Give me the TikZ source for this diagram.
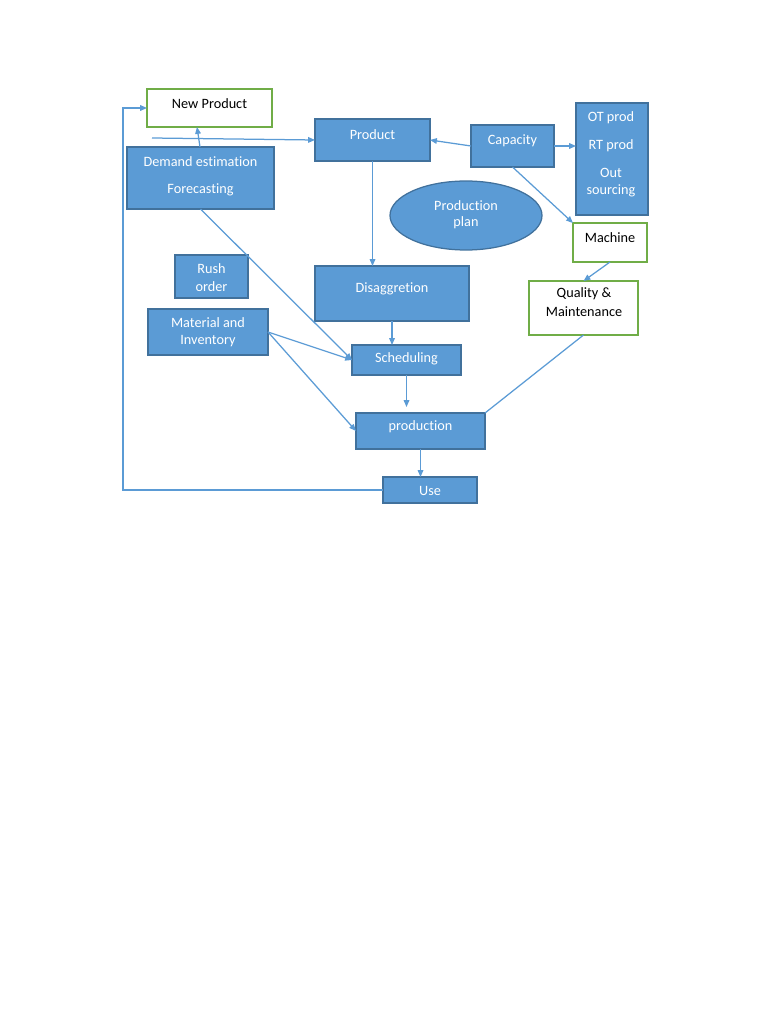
\documentclass[tikz,border=0pt]{standalone}
\usepackage{fontspec}
\setmainfont{Carlito}[Ligatures=NoCommon]
\usetikzlibrary{arrows.meta,shapes.geometric}
\definecolor{bfill}{HTML}{5B9BD5}
\definecolor{bdraw}{HTML}{41719C}
\definecolor{gdraw}{HTML}{70AD47}
\definecolor{lcol}{HTML}{5B9BD5}
\tikzset{
  sz/.style 2 args={minimum width=#1*0.8pt, minimum height=#2*0.8pt},
  bluebox/.style={rectangle, fill=bfill, draw=bdraw, line width=1pt, inner sep=0pt, outer sep=0pt},
  greenbox/.style={rectangle, fill=white, draw=gdraw, line width=1pt, inner sep=0pt, outer sep=0pt},
  wtxt/.style={text=white, font=\fontsize{11.4}{13}\selectfont, inner sep=0pt, anchor=center},
  ktxt/.style={text=black, font=\fontsize{11.4}{13}\selectfont, inner sep=0pt, anchor=center},
  conn/.style={draw=lcol, line width=1pt, -{Triangle[length=5.5pt,width=4.5pt]}},
  plainconn/.style={draw=lcol, line width=1pt}
}
\begin{document}
\begin{tikzpicture}[x=0.8pt,y=-0.8pt]
\useasboundingbox (0,0) rectangle (768,1024);
% boxes
\node[greenbox, sz={125}{38}] (newp) at (209.5,108) {};
\node[bluebox, sz={115}{42}] (prod) at (372.5,140) {};
\node[bluebox, sz={147}{62}] (dem) at (200.5,178) {};
\node[bluebox, sz={83}{42}] (cap) at (512.5,146) {};
\node[bluebox, sz={72}{112}] (ot) at (612,159) {};
\node[ellipse, fill=bfill, draw=bdraw, line width=1pt, inner sep=0pt, sz={152}{69}] (plan) at (466,215.5) {};
\node[greenbox, sz={74}{39}] (mach) at (610,242.5) {};
\node[bluebox, sz={73}{43}] (rush) at (211.5,276.5) {};
\node[bluebox, sz={154}{55}] (dis) at (392,293.5) {};
\node[bluebox, sz={120}{46}] (mat) at (208,332) {};
\node[greenbox, sz={109}{54}] (qual) at (583.5,308) {};
\node[bluebox, sz={109}{30}] (sch) at (406.5,360) {};
\node[bluebox, sz={129}{36}] (prodn) at (420.5,431) {};
\node[bluebox, sz={94}{26}] (use) at (430,490) {};
% texts
\node[ktxt] (tnewp) at (209.5,104) {New Product};
\node[wtxt] (tprod) at (372.5,135) {Product};
\node[wtxt] (tdem1) at (200.5,162) {Demand estimation};
\node[wtxt] (tdem2) at (200.5,190) {Forecasting};
\node[wtxt] (tcap) at (512.5,141) {Capacity};
\node[wtxt] (tot1) at (611,118) {OT prod};
\node[wtxt] (tot2) at (611,146) {RT prod};
\node[wtxt] (tot3) at (611,173) {Out};
\node[wtxt] (tot4) at (611,191) {sourcing};
\node[wtxt] (tplan1) at (466,206) {Production};
\node[wtxt] (tplan2) at (466,223) {plan};
\node[ktxt] (tmach) at (610,238) {Machine};
\node[wtxt] (trush1) at (211.5,269) {Rush};
\node[wtxt] (trush2) at (211.5,287) {order};
\node[wtxt] (tdis) at (392,289) {Disaggretion};
\node[wtxt] (tmat1) at (208,323) {Material and};
\node[wtxt] (tmat2) at (208,341) {Inventory};
\node[ktxt] (tqual1) at (584,294) {Quality \&};
\node[ktxt] (tqual2) at (584,312) {Maintenance};
\node[wtxt] (tsch) at (406.5,359) {Scheduling};
\node[wtxt] (tprodn) at (420.5,427) {production};
\node[wtxt] (tuse) at (430,491) {Use};
% connectors
\coordinate (start) at (152,138);
\draw[conn] (dem.north -| 200,0) -- (newp.south -| 197,0);
\draw[conn] (start) -- (prod.west);
\draw[conn] (cap.west) -- (prod.east);
\draw[conn] (cap.east) -- (cap.east -| ot.west);
\draw[conn] (cap.south) -- (mach.north west);
\draw[conn] (mach.south) -- (qual.north);
\draw[plainconn] (qual.south) -- (prodn.north east);
\draw[conn] (prod.south) -- (prod.south |- dis.north);
\draw[conn] (dis.south) -- (dis.south |- sch.north);
\draw[conn] (dem.south) -- (sch.west);
\draw[conn] (mat.east) -- (sch.west);
\draw[conn] (mat.east) -- (prodn.west);
\draw[conn, shorten >=6*0.8pt] (sch.south) -- (sch.south |- prodn.north);
\draw[conn] (prodn.south) -- (prodn.south |- use.north);
\draw[conn] (use.west) -- ++(-260,0) |- (newp.west);
\end{tikzpicture}
\end{document}
